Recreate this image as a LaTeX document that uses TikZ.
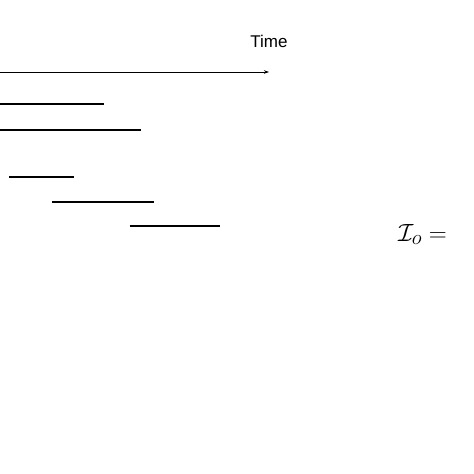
\documentclass[tikz,border=0pt]{standalone}
\usepackage{fontspec}
\setsansfont{Liberation Sans}
\usetikzlibrary{arrows.meta}
\begin{document}
\begin{tikzpicture}[x=1pt,y=-1pt,
  bar/.style={line width=2.2pt,black},
  axis/.style={line width=0.8pt,-{Stealth[length=5pt,width=3.5pt]}},
  lbl/.style={font=\sffamily\fontsize{17}{20}\selectfont,inner sep=0pt}]
\useasboundingbox[fill=white] (0,0) rectangle (474,474);
\coordinate (a0) at (0,72);
\coordinate (a1) at (269,72);
\draw[axis] (a0) -- (a1);
\node[lbl] (time) at (269,41) {Time};
\coordinate (b1s) at (0,104.3); \coordinate (b1e) at (104,104.3);
\coordinate (b2s) at (0,130.3); \coordinate (b2e) at (140.7,130.3);
\coordinate (b3s) at (9.3,177.3); \coordinate (b3e) at (74,177.3);
\coordinate (b4s) at (52.3,202.3); \coordinate (b4e) at (154.3,202.3);
\coordinate (b5s) at (129.7,226.3); \coordinate (b5e) at (219.7,226.3);
\draw[bar] (b1s) -- (b1e);
\draw[bar] (b2s) -- (b2e);
\draw[bar] (b3s) -- (b3e);
\draw[bar] (b4s) -- (b4e);
\draw[bar] (b5s) -- (b5e);
\node[anchor=base west,inner sep=0pt,font=\fontsize{32}{38}\selectfont] (eq) at (398,241) {$\mathcal{I}_o =$};
\end{tikzpicture}
\end{document}
